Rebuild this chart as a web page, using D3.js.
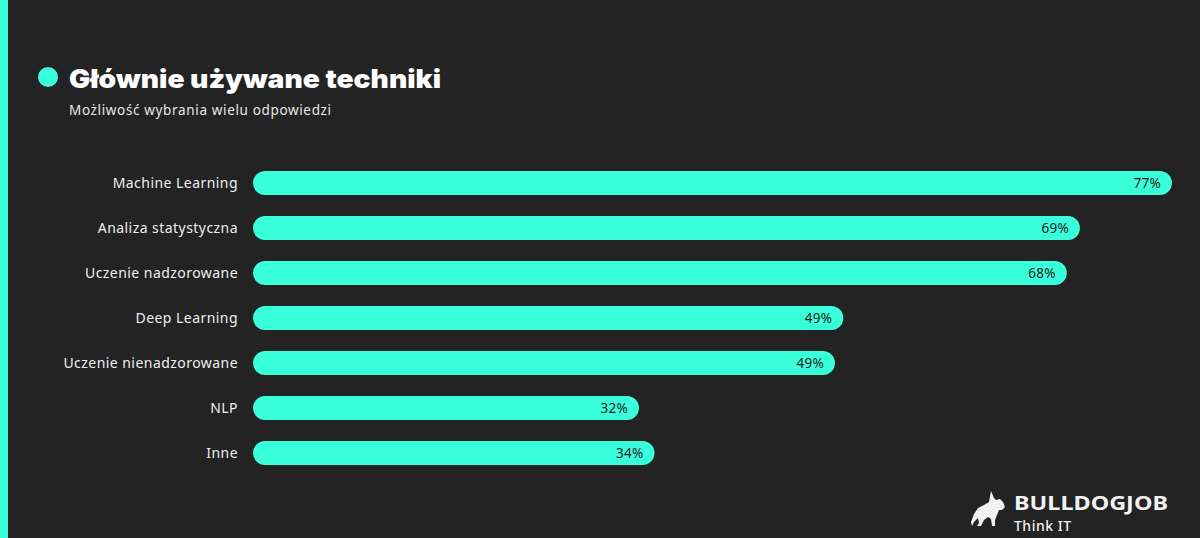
<!DOCTYPE html>
<html>
<head>
<meta charset="utf-8">
<script src="https://cdn.jsdelivr.net/npm/d3@7"></script>
<style>
  html, body { margin: 0; padding: 0; background: #232323; }
  svg { display: block; }
</style>
</head>
<body>
<script>
const categories = ["Machine Learning", "Analiza statystyczna", "Uczenie nadzorowane", "Deep Learning", "Uczenie nienadzorowane", "NLP", "Inne"];
const values = [76.9, 69.2, 68.1, 49.4, 48.7, 32.3, 33.6];
const valueLabels = ["77%", "69%", "68%", "49%", "49%", "32%", "34%"];
const title = "Głównie używane techniki";
const subtitle = "Możliwość wybrania wielu odpowiedzi";

const W = 1200, H = 538;
const teal = "#3affdb";
const bg = "#232323";

const svg = d3.select("body").append("svg").attr("width", W).attr("height", H);
svg.append("rect").attr("width", W).attr("height", H).attr("fill", bg);
svg.append("rect").attr("x", 0).attr("y", 0).attr("width", 8).attr("height", H).attr("fill", teal);

// title
svg.append("circle").attr("cx", 48).attr("cy", 77).attr("r", 10).attr("fill", teal);
svg.append("text").attr("x", 69).attr("y", 88)
  .attr("font-family", "Inter, 'Noto Sans', sans-serif").attr("font-weight", 900)
  .attr("font-size", 26).attr("fill", "#ffffff")
  .attr("textLength", 372).attr("lengthAdjust", "spacingAndGlyphs")
  .text(title);
svg.append("text").attr("x", 69).attr("y", 115)
  .attr("font-family", "'Noto Sans', sans-serif").attr("font-size", 13.5)
  .attr("letter-spacing", 0.65)
  .attr("fill", "#e6e6e6").text(subtitle);

// scales
const x = d3.scaleLinear().domain([0, 100]).range([253, 253 + 1195]);
const y = d3.scaleBand().domain(categories).range([160.5, 475.5]).paddingInner(0.4667).paddingOuter(0.2333);
const bh = 24;

const g = svg.append("g");
const rows = g.selectAll("g.row").data(categories).join("g").attr("class", "row")
  .attr("transform", d => `translate(0,${y(d) + y.bandwidth()/2})`);

rows.append("rect")
  .attr("x", x(0))
  .attr("y", -bh/2)
  .attr("height", bh)
  .attr("width", (d, i) => x(values[i]) - x(0))
  .attr("rx", 12).attr("ry", 12)
  .attr("fill", teal);

rows.append("text")
  .attr("x", 238).attr("y", 0).attr("dy", "0.35em")
  .attr("text-anchor", "end")
  .attr("font-family", "'Noto Sans', sans-serif").attr("font-size", 14)
  .attr("letter-spacing", 0.45)
  .attr("fill", "#eeeeee")
  .text(d => d);

rows.append("text")
  .attr("x", (d, i) => x(values[i]) - 11).attr("y", 0).attr("dy", "0.36em")
  .attr("text-anchor", "end")
  .attr("font-family", "'Noto Sans', sans-serif").attr("font-size", 13.5)
  .attr("letter-spacing", 0.3)
  .attr("fill", "#1e1e1e")
  .text((d, i) => valueLabels[i]);

// logo
const logo = svg.append("g");
logo.append("path")
  .attr("fill", "#f2f2f2")
  .attr("d", "M991,491 L994,498 L996,500 L1000,499 L1003,502 L1005,507 L1002,510 L999,510 L997,515 L995,520 L995,526 L992,526 L991,519 L988,517 L984,520 L981,526 L977,526 L979,523 L978,518 L974,522 L972,526 L971,522 L974,514 L978,508 L984,505 L989,502 L990,496 Z");
logo.append("text").attr("x", 1014).attr("y", 510)
  .attr("font-family", "'Noto Sans', sans-serif").attr("font-weight", 700)
  .attr("font-size", 20).attr("fill", "#f2f2f2")
  .attr("textLength", 154).attr("lengthAdjust", "spacingAndGlyphs")
  .text("BULLDOGJOB");
logo.append("text").attr("x", 1014).attr("y", 531)
  .attr("font-family", "'Noto Sans', sans-serif").attr("font-weight", 500)
  .attr("font-size", 14).attr("fill", "#f2f2f2")
  .attr("letter-spacing", 0.5)
  .text("Think IT");
</script>
</body>
</html>
